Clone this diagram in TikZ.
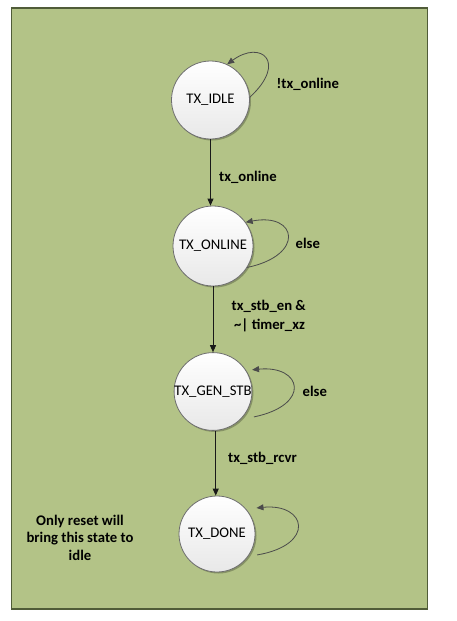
\documentclass[tikz,border=0pt]{standalone}
\usepackage{fontspec}
\setmainfont{Carlito}
\usetikzlibrary{arrows.meta,shadows}
\definecolor{bggreen}{RGB}{179,195,135}
\definecolor{bgedge}{RGB}{80,92,56}
\definecolor{circedge}{RGB}{110,110,110}
\definecolor{loopcol}{RGB}{75,75,75}
\tikzset{
  state/.style={circle, draw=circedge, line width=0.8pt, top color=white, bottom color=black!9,
    inner sep=0pt, font=\fontsize{14.7}{17.6}\selectfont,
    drop shadow={shadow xshift=1.5pt, shadow yshift=-1.5pt, opacity=0.25, fill=black}},
  trans/.style={draw=black!90, line width=0.9pt, -{Triangle[length=7pt,width=6pt]}},
  selfloop/.style={draw=loopcol, line width=0.8pt, -{Triangle[length=7pt,width=6pt]}},
  lbl/.style={font=\bfseries\fontsize{14.7}{19}\selectfont, inner sep=0pt, anchor=west, align=left},
}
\begin{document}
\begin{tikzpicture}[x=1pt,y=-1pt]
\useasboundingbox (0,0) rectangle (456,621);
\draw[fill=bggreen, draw=bgedge, line width=1.2pt] (11.5,8) rectangle (427.5,609);
% states
\node[state, minimum size=78pt] (idle) at (210.5,100) {TX\_IDLE};
\node[state, minimum size=80pt] (online) at (213,246) {TX\_ONLINE};
\node[state, minimum size=77pt] (gen) at (213,391.5) {TX\_GEN\_STB};
\node[state, minimum size=76pt] (done) at (217,534) {TX\_DONE};
% transitions
\draw[trans] (idle.south) -- (idle.south |- online.north);
\draw[trans] (online.south) -- (online.south |- gen.north);
\draw[trans] (gen.-86) -- (gen.-86 |- done.north);
% self loops
\draw[selfloop] (idle.4) .. controls +(38,-35) and +(34,-25) .. (idle.65);
\draw[selfloop] (online.-32) .. controls +(58,-12) and +(52,-10) .. (online.36);
\coordinate (g1) at ([shift={(8,4)}]gen.-33);
\coordinate (g2) at ([shift={(5,-2)}]gen.30);
\draw[selfloop] (g1) .. controls +(58,-12) and +(50,-5) .. (g2);
\coordinate (d1) at ([shift={(8,0)}]done.-33);
\coordinate (d2) at ([shift={(8,-4)}]done.35);
\draw[selfloop] (d1) .. controls +(59,-10) and +(50,-5) .. (d2);
% labels
\node[lbl] (l1) at (276.5,84) {!tx\_online};
\node[lbl] (l2) at (219,177) {tx\_online};
\node[lbl] (l3) at (295.5,243) {else};
\node[lbl] (l4) at (231.5,316.5) {tx\_stb\_en \&\\\,\textasciitilde| timer\_xz};
\node[lbl] (l5) at (302.5,391.5) {else};
\node[lbl] (l6) at (228,458) {tx\_stb\_rcvr};
\node[font=\bfseries\fontsize{14.7}{17.6}\selectfont, align=center, inner sep=0pt] (note) at (80,537.5) {Only reset will\\bring this state to\\idle};
\end{tikzpicture}
\end{document}
